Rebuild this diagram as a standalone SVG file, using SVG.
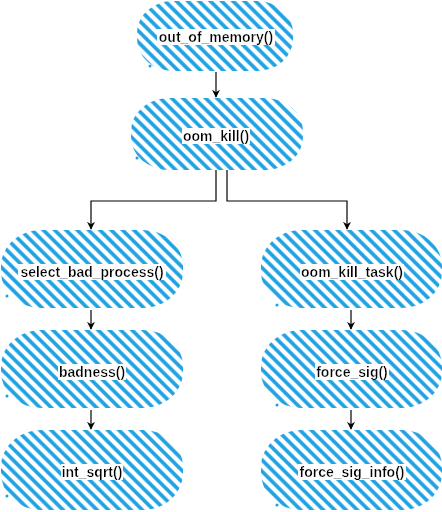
<svg xmlns="http://www.w3.org/2000/svg" width="442" height="512" viewBox="0 0 442 512">
<style>
.node{fill:url(#hatch);}
.lbl{font-family:"Liberation Sans",Arial,sans-serif;font-weight:bold;font-size:14px;fill:#000;text-anchor:middle;filter:url(#bg);}
.edge{fill:none;stroke:#000;stroke-width:1.2;marker-end:url(#arr);}
.dot{fill:#1ba1e2;}
</style>
<defs>
<pattern id="hatch" patternUnits="userSpaceOnUse" width="8" height="8" patternTransform="rotate(45)">
<rect x="0" y="2.2" width="8" height="3.6" fill="#1ba1e2"/>
</pattern>
<filter id="bg" x="-0.01" y="0" width="1.02" height="1">
<feFlood flood-color="#fff"/>
<feMerge><feMergeNode/><feMergeNode in="SourceGraphic"/></feMerge>
</filter>
<marker id="arr" viewBox="0 0 10 10" refX="9" refY="5" markerWidth="8" markerHeight="8" markerUnits="userSpaceOnUse" orient="auto">
<path d="M0,0 L10,5 L0,10 L3,5 Z" fill="#000"/>
</marker>
</defs>
<g id="connectors">
<path class="edge" d="M216,72 L216,97"/>
<path class="edge" d="M216,170 L216,201 L91,201 L91,229"/>
<path class="edge" d="M227,170 L227,201 L347,201 L347,229"/>
<path class="edge" d="M91,310 L91,329"/>
<path class="edge" d="M91,410 L91,429"/>
<path class="edge" d="M351,310 L351,329"/>
<path class="edge" d="M351,410 L351,429"/>
</g>
<g id="n_out_of_memory">
<rect class="node" x="137" y="1" width="156" height="70" rx="36" ry="32"/>
<circle class="dot" cx="150" cy="66" r="1.5"/>
<text class="lbl" x="216" y="42">out_of_memory()</text>
</g>
<g id="n_oom_kill">
<rect class="node" x="131" y="98" width="172" height="72" rx="38" ry="33"/>
<circle class="dot" cx="137" cy="158" r="1.5"/>
<text class="lbl" x="216" y="141">oom_kill()</text>
</g>
<g id="n_select_bad_process">
<rect class="node" x="1" y="230" width="182" height="78" rx="40" ry="36"/>
<circle class="dot" cx="7" cy="296" r="1.5"/>
<text class="lbl" x="92" y="277">select_bad_process()</text>
</g>
<g id="n_badness">
<rect class="node" x="1" y="330" width="182" height="78" rx="40" ry="36"/>
<circle class="dot" cx="7" cy="396" r="1.5"/>
<text class="lbl" x="92" y="377">badness()</text>
</g>
<g id="n_int_sqrt">
<rect class="node" x="1" y="430" width="182" height="80" rx="40" ry="37"/>
<circle class="dot" cx="7" cy="496" r="1.5"/>
<text class="lbl" x="92" y="477">int_sqrt()</text>
</g>
<g id="n_oom_kill_task">
<rect class="node" x="261" y="230" width="181" height="78" rx="40" ry="36"/>
<circle class="dot" cx="277" cy="305" r="1.5"/>
<text class="lbl" x="352" y="277">oom_kill_task()</text>
</g>
<g id="n_force_sig">
<rect class="node" x="261" y="330" width="181" height="78" rx="40" ry="36"/>
<circle class="dot" cx="277" cy="405" r="1.5"/>
<text class="lbl" x="352" y="377">force_sig()</text>
</g>
<g id="n_force_sig_info">
<rect class="node" x="261" y="430" width="181" height="80" rx="40" ry="37"/>
<circle class="dot" cx="277" cy="505" r="1.5"/>
<text class="lbl" x="352" y="477">force_sig_info()</text>
</g>
</svg>
